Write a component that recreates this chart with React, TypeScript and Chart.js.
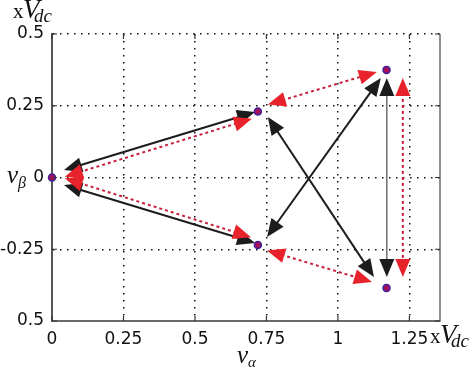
import React, { useEffect, useRef } from "react";
import { Chart, registerables } from "chart.js";

Chart.register(...registerables);

// axis ticks
const xTicks = [0, 0.25, 0.5, 0.75, 1, 1.25];
const xTickLabels = ["0", "0.25", "0.5", "0.75", "1", "1.25"];
const yTicks = [-0.5, -0.25, 0, 0.25, 0.5];
const yTickLabels = ["0.5", "-0.25", "0", "0.25", "0.5"];

// space-vector points
const pointX = [0, 0.72, 0.72, 1.17, 1.17];
const pointY = [0, 0.23, -0.235, 0.375, -0.385];

// black double-headed arrows (start -> end)
const blackX1 = [0.042, 0.042, 0.755, 1.15];
const blackY1 = [0.026, -0.026, 0.211, 0.347];
const blackX2 = [0.71, 0.71, 1.126, 0.752];
const blackY2 = [0.228, -0.228, -0.347, -0.207];

// grey vertical arrow
const greyX1 = [1.171];
const greyY1 = [0.347];
const greyX2 = [1.171];
const greyY2 = [-0.347];

// red dotted double-headed arrows
const redX1 = [0.045, 0.045, 0.755, 0.752, 1.227];
const redY1 = [0.003, -0.003, 0.254, -0.254, 0.347];
const redX2 = [0.699, 0.696, 1.136, 1.119, 1.227];
const redY2 = [0.205, -0.208, 0.368, -0.364, -0.347];

function head(ctx: CanvasRenderingContext2D, tx: number, ty: number, ux: number, uy: number, len: number, half: number, color: string) {
  const bx = tx - ux * len;
  const by = ty - uy * len;
  ctx.beginPath();
  ctx.moveTo(tx, ty);
  ctx.lineTo(bx - uy * half, by + ux * half);
  ctx.lineTo(bx + uy * half, by - ux * half);
  ctx.closePath();
  ctx.fillStyle = color;
  ctx.fill();
}

function arrow(
  ctx: CanvasRenderingContext2D,
  x1: number, y1: number, x2: number, y2: number,
  lineColor: string, headColor: string, width: number, dash: number[]
) {
  const dx = x2 - x1, dy = y2 - y1;
  const d = Math.hypot(dx, dy);
  const ux = dx / d, uy = dy / d;
  const L = 18, H = 7.5;
  ctx.save();
  ctx.beginPath();
  ctx.setLineDash(dash);
  ctx.strokeStyle = lineColor;
  ctx.lineWidth = width;
  ctx.moveTo(x1 + ux * (L - 3), y1 + uy * (L - 3));
  ctx.lineTo(x2 - ux * (L - 3), y2 - uy * (L - 3));
  ctx.stroke();
  ctx.setLineDash([]);
  head(ctx, x1, y1, -ux, -uy, L, H, headColor);
  head(ctx, x2, y2, ux, uy, L, H, headColor);
  ctx.restore();
}

const overlayPlugin = {
  id: "overlay",
  beforeDatasetsDraw(chart: any) {
    const { ctx, scales } = chart;
    const px = (v: number) => scales.x.getPixelForValue(v);
    const py = (v: number) => scales.y.getPixelForValue(v);
    for (let i = 0; i < greyX1.length; i++) {
      arrow(ctx, px(greyX1[i]), py(greyY1[i]), px(greyX2[i]), py(greyY2[i]), "#707070", "#1c1c1c", 1.5, []);
    }
    for (let i = 0; i < blackX1.length; i++) {
      arrow(ctx, px(blackX1[i]), py(blackY1[i]), px(blackX2[i]), py(blackY2[i]), "#1c1c1c", "#1c1c1c", 2, []);
    }
    for (let i = 0; i < redX1.length; i++) {
      arrow(ctx, px(redX1[i]), py(redY1[i]), px(redX2[i]), py(redY2[i]), "#c8203c", "#e8222a", 2, [3, 3]);
    }
  },
  afterDraw(chart: any) {
    const { ctx, chartArea: a, scales } = chart;
    ctx.save();
    // right border
    ctx.strokeStyle = "#6a6a6a";
    ctx.lineWidth = 1.5;
    ctx.beginPath();
    ctx.moveTo(a.right, a.top);
    ctx.lineTo(a.right, a.bottom);
    ctx.stroke();
    // inward tick marks
    ctx.strokeStyle = "#333";
    ctx.lineWidth = 1.2;
    ctx.beginPath();
    xTicks.forEach((v) => {
      const p = scales.x.getPixelForValue(v);
      ctx.moveTo(p, a.bottom);
      ctx.lineTo(p, a.bottom - 5);
      ctx.moveTo(p, a.top);
      ctx.lineTo(p, a.top + 5);
    });
    yTicks.forEach((v) => {
      const p = scales.y.getPixelForValue(v);
      ctx.moveTo(a.left, p);
      ctx.lineTo(a.left + 5, p);
      ctx.moveTo(a.right, p);
      ctx.lineTo(a.right - 5, p);
    });
    ctx.stroke();

    ctx.fillStyle = "#111";
    ctx.textBaseline = "alphabetic";
    ctx.textAlign = "left";
    const unit = (x: number, y: number) => {
      ctx.font = "21px 'Liberation Serif'";
      ctx.fillText("x", x, y);
      ctx.font = "italic 27px 'Liberation Serif'";
      ctx.fillText("V", x + 10, y);
      ctx.font = "italic 19px 'Liberation Serif'";
      ctx.fillText("dc", x + 21, y + 4);
    };
    unit(13, 18);
    unit(a.right - 10, a.bottom + 22);
    // y label v_beta
    ctx.font = "italic 25px 'Liberation Serif'";
    ctx.fillText("v", 7, a.top + 149);
    ctx.font = "italic 16px 'Liberation Serif'";
    ctx.fillText("\u03b2", 18, a.top + 154);
    // x label v_alpha
    ctx.font = "italic 25px 'Liberation Serif'";
    ctx.fillText("v", 237, a.bottom + 42);
    ctx.font = "italic 15px 'Liberation Serif'";
    ctx.fillText("\u03b1", 248, a.bottom + 46);
    ctx.restore();
  },
};

export default function App() {
  const ref = useRef<HTMLCanvasElement>(null);
  useEffect(() => {
    document.body.style.margin = "0";
    const canvas = ref.current!;
    const tickFont = { family: "'DejaVu Sans'", size: 17 };
    const chart = new Chart(canvas, {
      type: "scatter",
      data: {
        datasets: [
          {
            data: pointX.map((x, i) => ({ x, y: pointY[i] })),
            backgroundColor: "#a8105c",
            borderColor: "#40209a",
            borderWidth: 1.5,
            pointRadius: 3.5,
            clip: false as any,
          },
        ],
      },
      options: {
        animation: false,
        responsive: false,
        devicePixelRatio: 1,
        layout: { padding: { left: 0, top: 34, right: 34, bottom: 0 } },
        plugins: { legend: { display: false }, tooltip: { enabled: false } },
        scales: {
          x: {
            type: "linear",
            min: 0,
            max: 1.357,
            afterBuildTicks: (s: any) => {
              s.ticks = xTicks.map((v) => ({ value: v }));
            },
            afterFit: (s: any) => {
              s.height = 50;
            },
            ticks: {
              font: tickFont,
              color: "#111",
              padding: 8,
              maxRotation: 0,
              callback: (v: any) => {
                const i = xTicks.indexOf(Number(v));
                return i >= 0 ? xTickLabels[i] : "";
              },
            },
            grid: { color: "#111", lineWidth: 1.5, drawTicks: false },
            border: { display: true, color: "#6a6a6a", width: 2, dash: [1.5, 5.5] },
          },
          y: {
            type: "linear",
            min: -0.5,
            max: 0.5,
            afterBuildTicks: (s: any) => {
              s.ticks = yTicks.map((v) => ({ value: v }));
            },
            afterFit: (s: any) => {
              s.width = 52;
            },
            ticks: {
              font: tickFont,
              color: "#111",
              padding: 8,
              callback: (v: any) => {
                const i = yTicks.indexOf(Number(v));
                return i >= 0 ? yTickLabels[i] : "";
              },
            },
            grid: { color: "#111", lineWidth: 1.5, drawTicks: false },
            border: { display: true, color: "#555", width: 2, dash: [1.5, 5.5] },
          },
        },
      },
      plugins: [overlayPlugin],
    });
    return () => chart.destroy();
  }, []);
  return (
    <div style={{ width: 474, height: 371, background: "#fff" }}>
      <canvas ref={ref} width={474} height={371} style={{ display: "block" }} />
    </div>
  );
}
